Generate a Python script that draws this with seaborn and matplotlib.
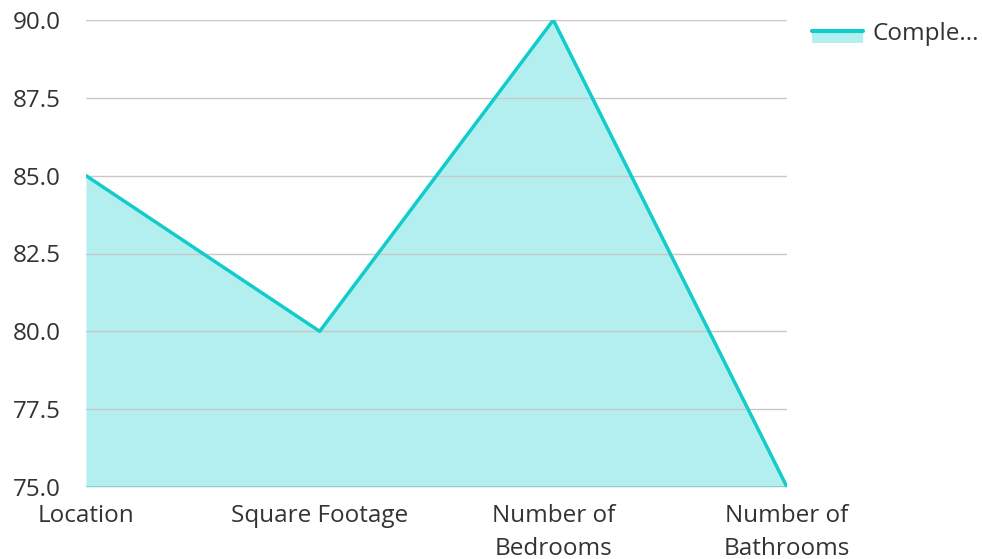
import matplotlib
matplotlib.use("Agg")
import matplotlib.pyplot as plt
import seaborn as sns
import pandas as pd
from matplotlib.lines import Line2D
from matplotlib.patches import Rectangle
from matplotlib.legend_handler import HandlerBase

categories = ["Location", "Square Footage", "Number of\nBedrooms", "Number of\nBathrooms"]
values = [85, 80, 90, 75]
series_name = "Comple..."
yticks = [75.0, 77.5, 80.0, 82.5, 85.0, 87.5, 90.0]

sns.set_theme(style="white")
plt.rcParams['font.family'] = ['Open Sans', 'DejaVu Sans']

df = pd.DataFrame({"cat": categories, "val": values, "x": range(len(categories))})

fig = plt.figure(figsize=(9.82, 5.59), dpi=100)
ax = fig.add_axes([86/982, 1-487/559, (787-86)/982, (487-20)/559])

line_c = "#12cccc"
fill_c = "#b2efee"
fs = 17.5

ax.fill_between(df["x"], df["val"], 75, color=fill_c, lw=0, zorder=2)
sns.lineplot(data=df, x="x", y="val", ax=ax, color=line_c, lw=2.5, zorder=3)

ax.set_xlim(0, 3)
ax.set_ylim(75, 90)
ax.set_yticks(yticks)
ax.set_yticklabels([f"{v:.1f}" for v in yticks])
ax.set_xticks(df["x"])
ax.set_xticklabels(categories, linespacing=1.5)
for yv in yticks[1:]:
    ax.axhline(yv, color="#c8c8c8", lw=1, zorder=2.5)
ax.axhline(75, color="#8cc8c6", lw=1.2, zorder=2.6)
for s in ax.spines.values():
    s.set_visible(False)
ax.set_xlabel("")
ax.set_ylabel("")
ax.tick_params(axis="y", length=0, pad=18.5, labelsize=fs, labelcolor="#333333")
ax.tick_params(axis="x", length=0, pad=12.5, labelsize=fs, labelcolor="#333333")
ax.grid(False)


class AreaHandler(HandlerBase):
    def create_artists(self, legend, orig_handle, xdescent, ydescent, width, height, fontsize, trans):
        top = -ydescent + height * 0.5
        rect = Rectangle((-xdescent, top - height * 0.7), width, height * 0.7,
                         facecolor=fill_c, edgecolor="none", transform=trans)
        ln = Line2D([-xdescent, -xdescent + width], [top, top], color=line_c, lw=3, transform=trans)
        return [rect, ln]


leg = fig.legend([object()], [series_name], loc="upper left", bbox_to_anchor=(807/982, 1-17/559),
                 frameon=False, fontsize=fs, handlelength=2.1, handletextpad=0.4,
                 borderpad=0.2, borderaxespad=0,
                 handler_map={object: AreaHandler()})
for t in leg.get_texts():
    t.set_color("#333333")

fig.savefig("out.png", dpi=100)
